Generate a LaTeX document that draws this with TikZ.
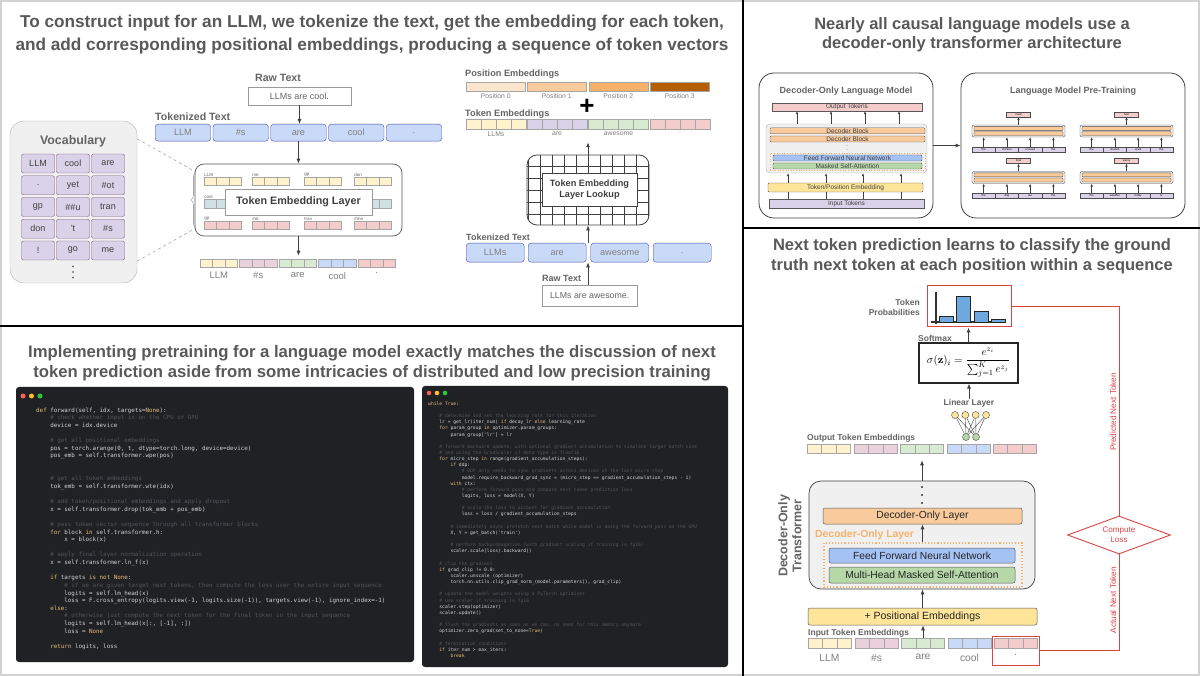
\documentclass[tikz,border=0pt]{standalone}
\usepackage[no-math]{fontspec}
\usepackage{amsmath}
\setmainfont{Liberation Sans}
\setmonofont{DejaVu Sans Mono}
\usetikzlibrary{arrows.meta, positioning, shapes.geometric, calc, decorations.pathreplacing}
\definecolor{titlegray}{RGB}{89,89,89}
\definecolor{labgray}{RGB}{100,100,100}
\definecolor{vyellow}{RGB}{255,242,204}
\definecolor{vblue}{RGB}{201,218,248}
\definecolor{vpurple}{RGB}{217,210,233}
\definecolor{vgreen}{RGB}{217,234,211}
\definecolor{vred}{RGB}{244,204,204}
\definecolor{vpink}{RGB}{234,209,220}
\definecolor{vteal}{RGB}{208,224,227}
\definecolor{porange0}{RGB}{252,229,205}
\definecolor{porange1}{RGB}{249,203,156}
\definecolor{porange2}{RGB}{246,178,107}
\definecolor{porange3}{RGB}{180,95,6}
\definecolor{ffnblue}{RGB}{164,194,244}
\definecolor{msagreen}{RGB}{182,215,168}
\definecolor{posyellow}{RGB}{255,229,153}
\definecolor{barblue}{RGB}{111,168,220}
\definecolor{lossred}{RGB}{221,68,68}
\definecolor{codebg}{RGB}{32,33,36}
\definecolor{codefg}{RGB}{212,212,212}
\definecolor{codecm}{RGB}{82,85,92}
\definecolor{codekw}{RGB}{230,192,123}
\definecolor{dotred}{RGB}{255,95,86}
\definecolor{dotyellow}{RGB}{255,189,46}
\definecolor{dotgreen}{RGB}{39,201,63}

\newcommand{\kw}[1]{\textcolor{codekw}{#1}}
\newcommand{\cm}[1]{\textcolor{codecm}{#1}}
\newcommand{\ind}[1]{\hspace*{#1\fontcharwd\font32}}
% vector of equal cells: name, x1, y1, x2, y2, fill, cells
\newcommand{\embvec}[7]{%
  \node[vec, fill=#6, minimum width={(#4)-(#2)}, minimum height={(#5)-(#3)}]
    (#1) at ({((#2)+(#4))/2},{((#3)+(#5))/2}) {};
  \pgfmathtruncatemacro{\nseg}{#7-1}
  \foreach \k in {1,...,\nseg}
    \draw[vec] ($(#1.north west)!\k/#7!(#1.north east)$) -- ($(#1.south west)!\k/#7!(#1.south east)$);
}
% small pre-training example: name, x, y, output, four tokens
\newcommand{\minilm}[8]{%
  \node[minibox] (#1) at (#2,#3) {};
  \node[minibar] (#1a) at (#2,#3-2.6) {};
  \node[minibar] (#1b) at (#2,#3+2.6) {};
  \node[minitok, fill=vred, minimum width=24] (#1o) at (#2,#3-16.5) {#4};
  \draw[arrsm] (#1.north) -- (#1o.south);
  \foreach \t [count=\j] in {#5,#6,#7,#8}
    \node[minitok, fill=vpurple, minimum width=23.25] (#1t\j) at ({#2-46.5+23.25*(\j-0.5)},#3+18.5) {\t};
  \foreach \j in {1,...,4}
    \draw[arrsm] (#1t\j.north) -- (#1t\j.north |- #1.south);
}

\begin{document}
\begin{tikzpicture}[x=1pt, y=-1pt,
    ttl/.style={font=\fontsize{16}{20}\selectfont\bfseries, text=titlegray, align=center},
    lab/.style={font=\fontsize{10.6}{12}\selectfont\bfseries, text=labgray, inner sep=0},
    sublab/.style={font=\fontsize{8.5}{10}\selectfont\bfseries, text=labgray, inner sep=0},
    toklab/.style={font=\fontsize{9.5}{11}\selectfont, text=gray, inner sep=0},
    poslab/.style={font=\fontsize{6.8}{8}\selectfont, text=gray, inner sep=0},
    tinylab/.style={font=\fontsize{4.5}{5}\selectfont, text=labgray, inner sep=0.4},
    vec/.style={draw=gray!70, line width=0.5, inner sep=0},
    tokbox/.style={draw=gray!60!blue, fill=vblue, rounded corners=3, inner sep=0,
                   text=gray, font=\fontsize{9.2}{11}\selectfont},
    voccell/.style={draw=gray!70!violet, fill=vpurple, rounded corners=2, inner sep=0,
                    minimum width=33, minimum height=19, font=\fontsize{9}{11}\selectfont, text=black!75},
    plainbox/.style={draw=gray!80, fill=white, inner sep=0, text=gray!80!black},
    bar/.style={draw=gray!70!black, line width=0.4, inner sep=0, rounded corners=1,
                font=\fontsize{6.5}{7}\selectfont, text=black!75},
    bigbar/.style={draw=gray!70!black, line width=0.5, inner sep=0, rounded corners=2,
                   font=\fontsize{10.3}{12}\selectfont, text=black!85},
    minibox/.style={draw=gray!60!black, fill=gray!12, rounded corners=2, line width=0.4,
                    minimum width=93, minimum height=12, inner sep=0},
    minibar/.style={draw=gray!60!black, fill=porange1, line width=0.3, rounded corners=0.8,
                    minimum width=89, minimum height=4, inner sep=0},
    minitok/.style={draw=gray!60!black, line width=0.3, minimum height=5, inner sep=0,
                    font=\fontsize{2.8}{3}\selectfont},
    arr/.style={-{Latex[length=5,width=4]}, draw=darkgray, line width=0.8},
    arrsm/.style={-{Latex[length=3,width=2.6]}, draw=darkgray, line width=0.5},
    redline/.style={draw=lossred, line width=0.9},
    redlab/.style={text=lossred, font=\fontsize{8.2}{9}\selectfont, inner sep=0},
    neuron/.style={circle, draw=gray!60!black, line width=0.4, minimum size=7, inner sep=0},
    codewin/.style={fill=codebg, rounded corners=3, inner sep=0},
    codedot/.style={circle, minimum size=5, inner sep=0}]
  \useasboundingbox (0,0) rectangle (1200,676);
  \fill[white] (0,0) rectangle (1200,676);
  % panel frames
  \draw[gray!35, line width=2] (1,1) rectangle (1199,675);
  \draw[line width=2.2] (743,0) -- (743,676);
  \draw[line width=2.2] (0,326) -- (743,326);
  \draw[line width=2.2] (743,228) -- (1200,228);

  % ---------- top left: building the input ----------
  \node[ttl, font=\fontsize{17.2}{23}\selectfont\bfseries] (ttl1) at (372,35) {To construct input for an LLM, we tokenize the text, get the embedding for each token,\\and add corresponding positional embeddings, producing a sequence of token vectors};

  \node[draw=gray!60, fill=gray!12, rounded corners=14, minimum width=127, minimum height=162] (vocab) at (73.5,202) {};
  \node[lab, font=\fontsize{12.4}{14}\selectfont\bfseries] (voclab) at (73,141) {Vocabulary};
  \foreach \w [count=\i from 0, evaluate=\i as \cx using {38+35*mod(\i,3)},
               evaluate=\i as \cy using {163.5+21.75*int(\i/3)}]
      in {LLM,cool,are,.,yet,\#ot,gp,\#\#u,tran,don,'t,\#s,!,go,me}
    \node[voccell] (voc\i) at (\cx,\cy) {\w};
  \foreach \yd in {266.5,272,277.5}
    \fill[black!75] (73,\yd) circle (0.9);

  \coordinate (bracetop) at (196,172);
  \coordinate (bracebot) at (196,228);
  \draw[gray!70, line width=0.6, decorate, decoration={brace, amplitude=5pt}] (bracebot) -- (bracetop);
  \draw[dashed, gray!70, line width=0.6] ($(vocab.north east)+(0,18)$) -- (bracetop);
  \draw[dashed, gray!70, line width=0.6] ($(vocab.south east)+(0,-22)$) -- (bracebot);

  \node[lab] (rawlab) at (278,78) {Raw Text};
  \node[plainbox, minimum width=103, minimum height=18, font=\fontsize{9}{11}\selectfont] (raw1) at (299.5,96) {LLMs are cool.};
  \node[lab, anchor=west] (toklab) at (155,117) {Tokenized Text};
  \foreach \xs/\lab [count=\c] in {155/LLM, 212.75/\#s, 270.5/are, 328.25/cool, 386/.}
    \node[tokbox, minimum width=55.5, minimum height=17, anchor=north west] (tk\c) at (\xs,124) {\lab};
  \draw[arr] (raw1.south) -- (raw1.south |- tk3.north);

  \node[draw=gray!70!black, fill=white, line width=0.7, rounded corners=9, minimum width=207, minimum height=72] (embl) at (298.5,200) {};
  \draw[arr] (tk3.south) -- (tk3.south |- embl.north);
  \foreach \xs/\lab [count=\c] in {204/LLM, 252/me, 304/gp, 354/don} {
    \embvec{ra\c}{\xs}{177}{\xs+37}{185}{vyellow}{3}
    \node[tinylab, anchor=south west] (ral\c) at (ra\c.north west) {\lab};
  }
  \foreach \xs [count=\c] in {204, 252, 304, 354} {
    \embvec{rb\c}{\xs}{199.5}{\xs+37}{208}{vteal}{3}
  }
  \node[tinylab, anchor=south west] (rbl1) at (rb1.north west) {cool};
  \foreach \xs/\lab [count=\c] in {204/gp, 252/\#ot, 304/tran, 354/\#me} {
    \embvec{rc\c}{\xs}{221.5}{\xs+37}{229.5}{vred}{3}
    \node[tinylab, anchor=south west] (rcl\c) at (rc\c.north west) {\lab};
  }
  \node[plainbox, minimum width=147, minimum height=26, text=darkgray,
        font=\fontsize{10.8}{12}\selectfont\bfseries] (embl2) at (298.5,202) {Token Embedding Layer};
  \foreach \xs/\col/\lab [count=\c] in {200/vyellow/LLM, 239.5/vpink/\#s, 279/vgreen/are, 318.5/vblue/cool, 358/vred/.} {
    \embvec{ev\c}{\xs}{259}{\xs+37.5}{267}{\col}{3}
    \node[toklab, below=5pt of ev\c] (evl\c) {\lab};
  }
  \draw[arr, shorten >=3pt] (embl.south) -- (embl.south |- ev3.north);

  \node[lab, anchor=west, font=\fontsize{9.2}{11}\selectfont\bfseries] (poslab) at (465,74) {Position Embeddings};
  \foreach \xs/\col [count=\c from 0] in {466/porange0, 527/porange1, 588.5/porange2, 650/porange3} {
    \node[vec, fill=\col, minimum width=59, minimum height=9, anchor=north west] (pe\c) at (\xs,82) {};
    \node[poslab, below=2pt of pe\c] (pel\c) {Position \c};
  }
  \node[font=\fontsize{26}{26}\selectfont\bfseries, inner sep=0] (plus) at (587,107) {+};
  \node[lab, anchor=west, font=\fontsize{9.2}{11}\selectfont\bfseries] (temblab) at (465,114) {Token Embeddings};
  \foreach \xs/\col/\lab [count=\c] in {466/vyellow/LLMs, 527/vpurple/are, 588.5/vgreen/awesome, 650/vred/.} {
    \embvec{te\c}{\xs}{119}{\xs+60}{129}{\col}{4}
    \node[poslab, below=2.5pt of te\c] (tle\c) {\lab};
  }
  \node[draw=darkgray, line width=0.8, rounded corners=10, minimum width=122, minimum height=70,
        path picture={\draw[darkgray, line width=0.6] (path picture bounding box.south west)
                      grid[step=12pt] (path picture bounding box.north east);}] (lk) at (588,190) {};
  \node[plainbox, draw=darkgray, minimum width=95, minimum height=33, align=center, text=darkgray,
        font=\fontsize{9.2}{11.5}\selectfont\bfseries] (lkin) at (589.5,189.5) {Token Embedding\\Layer Lookup};
  \draw[arr, shorten >=13pt] (lk.north) -- (lk.north |- te2.south);
  \node[lab, anchor=west, font=\fontsize{9}{11}\selectfont\bfseries] (toklab2) at (466,237) {Tokenized Text};
  \foreach \xs/\lab [count=\c] in {466/LLMs, 528/are, 590.5/awesome, 653/.}
    \node[tokbox, minimum width=58, minimum height=19, anchor=north west] (bt\c) at (\xs,243) {\lab};
  \draw[arr] (lk.south |- bt2.north) -- (lk.south);
  \node[lab, anchor=west, font=\fontsize{9}{11}\selectfont\bfseries] (rawlab2) at (542,278) {Raw Text};
  \node[plainbox, minimum width=95, minimum height=21, anchor=north west,
        font=\fontsize{8.8}{10}\selectfont] (raw2) at (542,285) {LLMs are awesome.};
  \draw[arr] (lk.south |- raw2.north) -- (lk.south |- bt2.south);

  % ---------- top right: decoder-only architecture ----------
  \node[ttl, font=\fontsize{16.5}{19.5}\selectfont\bfseries] (ttl2) at (972,34.5) {Nearly all causal language models use a\\decoder-only transformer architecture};
  \node[draw=gray!50!black, line width=0.8, rounded corners=15, minimum width=174, minimum height=145] (dlm) at (846,145.5) {};
  \node[sublab, font=\fontsize{9}{10}\selectfont\bfseries] (dlmlab) at (846,91) {Decoder-Only Language Model};
  \node[bar, fill=vred, minimum width=150, minimum height=8, rounded corners=0] (otok) at (847,107) {Output Tokens};
  \node[draw=gray!60, fill=gray!12, rounded corners=4, minimum width=161, minimum height=49] (dgroup) at (846.5,148.5) {};
  \node[bar, fill=porange1, minimum width=155, minimum height=6] (db1) at (847.5,130.8) {Decoder Block};
  \node[bar, fill=porange1, minimum width=155, minimum height=6] (db2) at (847.5,139) {Decoder Block};
  \node[font=\fontsize{5}{5}\selectfont, inner sep=0] (ddots) at (847,147) {$\vdots$};
  \node[draw=porange2, dotted, line width=0.6, minimum width=155, minimum height=17, inner sep=0] (dsub) at (847.5,161.5) {};
  \node[bar, fill=ffnblue, minimum width=149, minimum height=6] (ffn1) at (847.5,158) {Feed Forward Neural Network};
  \node[bar, fill=msagreen, minimum width=149, minimum height=6] (msa1) at (847.5,166) {Masked Self-Attention};
  \node[bar, fill=posyellow, minimum width=155, minimum height=9] (tpe) at (845.5,187.5) {Token/Position Embedding};
  \node[bar, fill=vpurple, minimum width=155, minimum height=9, rounded corners=0] (inp) at (846.5,203.5) {Input Tokens};
  \foreach \x in {797,831,865,899}
    \draw[arrsm] (\x,0 |- dgroup.north) -- (\x,0 |- otok.south);
  \foreach \x in {788,826,863,901} {
    \draw[arrsm] (\x,0 |- tpe.north) -- (\x,0 |- dgroup.south);
    \draw[darkgray, line width=0.5] (\x,0 |- inp.north) -- (\x,0 |- tpe.south);
  }
  \node[draw=gray!50!black, line width=0.8, rounded corners=15, minimum width=224, minimum height=145] (pt) at (1073,145.5) {};
  \node[sublab, font=\fontsize{9}{10}\selectfont\bfseries] (ptlab) at (1073,91) {Language Model Pre-Training};
  \draw[arr] (dlm.east) -- (pt.west);
  \minilm{ma}{1018.5}{131}{road}{the}{chicken}{crossed}{the}
  \minilm{mb}{1126.5}{131}{test}{the}{student}{aced}{the}
  \minilm{mc}{1018.5}{177.5}{food}{the}{dog}{ate}{the}
  \minilm{md}{1126.5}{177.5}{sunny}{the}{weather}{today}{is}

  % ---------- bottom right: next token prediction ----------
  \node[ttl, font=\fontsize{16.5}{20}\selectfont\bfseries] (ttl3) at (972,256) {Next token prediction learns to classify the ground\\truth next token at each position within a sequence};
  \node[sublab, align=right, anchor=east] (problab) at (920,307) {Token\\Probabilities};
  \node[draw=lossred, line width=1, fill=white, minimum width=84, minimum height=41] (hist) at (969,306.5) {};
  \draw[black!80, line width=1.2] (936,292) -- (936,324);
  \draw[black!80, line width=1.2] (931,322) -- (1006,322);
  \foreach \xa/\top in {939/316, 956/296, 974/311, 991/319.5}
    \draw[fill=barblue, draw=gray!30!black, line width=0.6] (\xa,\top) rectangle (\xa+14,322);
  \node[sublab, anchor=west] (smlab) at (918,338) {Softmax};
  \node[draw=black!85, line width=1.2, minimum width=99, minimum height=40, inner sep=0,
        font=\fontsize{11}{13}\selectfont] (sm) at (968.5,363) {$\sigma(\mathbf{z})_i = \dfrac{e^{z_i}}{\sum_{j=1}^{K} e^{z_j}}$};
  \draw[arr] (sm.north) -- (sm.north |- hist.south);
  \node[sublab] (linlab) at (969,403) {Linear Layer};
  \draw[arr] (linlab.north) -- (linlab.north |- sm.south);
  \foreach \xn [count=\c] in {955,965.3,975.7,986}
    \node[neuron, fill=posyellow] (ny\c) at (\xn,415) {};
  \foreach \xn [count=\c] in {966,976}
    \node[neuron, fill=msagreen] (ng\c) at (\xn,437) {};
  \foreach \a in {1,2}
    \foreach \b in {1,...,4}
      \draw[gray!50!black, line width=0.4] (ng\a) -- (ny\b);
  \node[sublab, anchor=west] (outlab) at (807,438) {Output Token Embeddings};
  \foreach \xs/\col [count=\c] in {807/vyellow, 854/vpink, 900.5/vgreen, 947/vblue, 993/vred} {
    \embvec{ov\c}{\xs}{444}{\xs+43}{453}{\col}{3}
  }

  \node[draw=gray!50!black, fill=gray!12, line width=0.7, rounded corners=12, minimum width=226, minimum height=108] (dt) at (922,535) {};
  \draw[arr, shorten >=7pt] (dt.north) -- (dt.north |- ov3.south);
  \foreach \yd in {487,495,503}
    \fill[black!80] (922,\yd) circle (1.2);
  \node[bigbar, fill=porange1, minimum width=199, minimum height=16] (dol) at (922.5,516) {Decoder-Only Layer};
  \node[font=\fontsize{10.4}{12}\selectfont\bfseries, text=porange2, anchor=west, inner sep=0] (dollab) at (815,535) {Decoder-Only Layer};
  \node[draw=porange2, dotted, line width=1.1, minimum width=198, minimum height=44, inner sep=0] (dsb) at (923,565) {};
  \draw[arr] (dsb.north -| dol.south) -- (dol.south);
  \node[bigbar, fill=ffnblue, minimum width=186, minimum height=15] (ffn2) at (922,555.5) {Feed Forward Neural Network};
  \node[bigbar, fill=msagreen, minimum width=186, minimum height=16] (msa2) at (922,575) {Multi-Head Masked Self-Attention};
  \node[lab, font=\fontsize{12.5}{14}\selectfont\bfseries, rotate=90, align=center] (dotlab) at (790,536) {Decoder-Only\\Transformer};
  \node[bigbar, fill=posyellow, minimum width=229, minimum height=17, font=\fontsize{10.5}{12}\selectfont] (pe) at (922.5,616.5) {+ Positional Embeddings};
  \draw[arr] (pe.north) -- (pe.north |- dt.south);
  \node[sublab, anchor=west] (inlab) at (808,633) {Input Token Embeddings};
  \foreach \xs/\col/\lab [count=\c] in {808/vyellow/LLM, 855/vpink/\#s, 901.5/vgreen/are, 948/vblue/cool, 994/vred/.} {
    \embvec{iv\c}{\xs}{638}{\xs+43}{648}{\col}{3}
    \node[toklab, font=\fontsize{10.3}{12}\selectfont, below=6pt of iv\c] (ivl\c) {\lab};
  }
  \draw[arr] (iv3.north) -- (iv3.north |- pe.south);
  \node[draw=lossred, line width=1, minimum width=47, minimum height=29] (rb) at (1015.5,650.5) {};
  \node[diamond, draw=lossred, fill=white, line width=0.9, aspect=2.7, inner sep=0.5,
        minimum width=103, minimum height=38, text=lossred, align=center,
        font=\fontsize{8.1}{10}\selectfont] (loss) at (1119,535) {Compute\\Loss};
  \draw[redline] (rb.east) -| (loss.south);
  \draw[redline] (hist.east) -| (loss.north);
  \node[redlab, rotate=90, anchor=south] (plab) at (1116.5,412) {Predicted Next Token};
  \node[redlab, rotate=90, anchor=south] (alab) at (1116.5,600) {Actual Next Token};

  % ---------- bottom left: training code ----------
  \node[ttl, font=\fontsize{16.7}{19.5}\selectfont\bfseries] (ttl4) at (372,363) {Implementing pretraining for a language model exactly matches the discussion of next\\token prediction aside from some intricacies of distributed and low precision training};
  \node[codewin, minimum width=398, minimum height=275] (cw1) at (215,524.5) {};
  \foreach \col [count=\c] in {dotred, dotyellow, dotgreen}
    \node[codedot, fill=\col] (cwa\c) at (14.5+8.5*\c,396) {};
  \node[anchor=north west, inner sep=0, align=left, text=codefg,
        font=\ttfamily\fontsize{5.86}{7.62}\selectfont] (code1) at (36,407.5) {%
\kw{def} forward(self, idx, targets=\kw{None}):\\
\ind{4}\cm{\# check whether input is on the CPU or GPU}\\
\ind{4}device = idx.device\\
\mbox{}\\
\ind{4}\cm{\# get all positional embeddings}\\
\ind{4}pos = torch.arange(0, t, dtype=torch.long, device=device)\\
\ind{4}pos\_emb = self.transformer.wpe(pos)\\
\mbox{}\\
\mbox{}\\
\ind{4}\cm{\# get all token embeddings}\\
\ind{4}tok\_emb = self.transformer.wte(idx)\\
\mbox{}\\
\ind{4}\cm{\# add token/positional embeddings and apply dropout}\\
\ind{4}x = self.transformer.drop(tok\_emb + pos\_emb)\\
\mbox{}\\
\ind{4}\cm{\# pass token vector sequence through all transformer blocks}\\
\ind{4}\kw{for} block \kw{in} self.transformer.h:\\
\ind{8}x = block(x)\\
\mbox{}\\
\ind{4}\cm{\# apply final layer normalization operation}\\
\ind{4}x = self.transformer.ln\_f(x)\\
\mbox{}\\
\ind{4}\kw{if} targets \kw{is not None}:\\
\ind{8}\cm{\# if we are given target next tokens, then compute the loss over the entire input sequence}\\
\ind{8}logits = self.lm\_head(x)\\
\ind{8}loss = F.cross\_entropy(logits.view(-1, logits.size(-1)), targets.view(-1), ignore\_index=-1)\\
\ind{4}\kw{else}:\\
\ind{8}\cm{\# otherwise just compute the next token for the final token in the input sequence}\\
\ind{8}logits = self.lm\_head(x[:, [-1], :])\\
\ind{8}loss = \kw{None}\\
\mbox{}\\
\ind{4}\kw{return} logits, loss};
  \node[codewin, minimum width=306, minimum height=281] (cw2) at (575,526.5) {};
  \foreach \col [count=\c] in {dotred, dotyellow, dotgreen}
    \node[codedot, fill=\col, minimum size=4.6] (cwb\c) at (421+8*\c,393) {};
  \node[anchor=north west, inner sep=0, align=left, text=codefg,
        font=\ttfamily\fontsize{4.65}{6.15}\selectfont] (code2) at (428,401.5) {%
\kw{while} \kw{True}:\\
\mbox{}\\
\ind{4}\cm{\# determine and set the learning rate for this iteration}\\
\ind{4}lr = get\_lr(iter\_num) \kw{if} decay\_lr \kw{else} learning\_rate\\
\ind{4}\kw{for} param\_group \kw{in} optimizer.param\_groups:\\
\ind{8}param\_group['lr'] = lr\\
\mbox{}\\
\ind{4}\cm{\# forward backward update, with optional gradient accumulation to simulate larger batch size}\\
\ind{4}\cm{\# and using the GradScaler if data type is float16}\\
\ind{4}\kw{for} micro\_step \kw{in} range(gradient\_accumulation\_steps):\\
\ind{8}\kw{if} ddp:\\
\ind{12}\cm{\# DDP only needs to sync gradients across devices at the last micro step}\\
\ind{12}model.require\_backward\_grad\_sync = (micro\_step == gradient\_accumulation\_steps - 1)\\
\ind{8}\kw{with} ctx:\\
\ind{12}\cm{\# perform forward pass and compute next token prediction loss}\\
\ind{12}logits, loss = model(X, Y)\\
\mbox{}\\
\ind{12}\cm{\# scale the loss to account for gradient accumulation}\\
\ind{12}loss = loss / gradient\_accumulation\_steps\\
\mbox{}\\
\ind{8}\cm{\# immediately async prefetch next batch while model is doing the forward pass on the GPU}\\
\ind{8}X, Y = get\_batch('train')\\
\mbox{}\\
\ind{8}\cm{\# perform backpropagation (with gradient scaling if training in fp16)}\\
\ind{8}scaler.scale(loss).backward()\\
\mbox{}\\
\ind{4}\cm{\# clip the gradient}\\
\ind{4}\kw{if} grad\_clip != 0.0:\\
\ind{8}scaler.unscale\_(optimizer)\\
\ind{8}torch.nn.utils.clip\_grad\_norm\_(model.parameters(), grad\_clip)\\
\mbox{}\\
\ind{4}\cm{\# update the model weights using a PyTorch optimizer}\\
\ind{4}\cm{\# use scaler if training in fp16}\\
\ind{4}scaler.step(optimizer)\\
\ind{4}scaler.update()\\
\mbox{}\\
\ind{4}\cm{\# flush the gradients as soon as we can, no need for this memory anymore}\\
\ind{4}optimizer.zero\_grad(set\_to\_none=\kw{True})\\
\mbox{}\\
\ind{4}\cm{\# termination conditions}\\
\ind{4}\kw{if} iter\_num > max\_iters:\\
\ind{8}\kw{break}};
\end{tikzpicture}
\end{document}
